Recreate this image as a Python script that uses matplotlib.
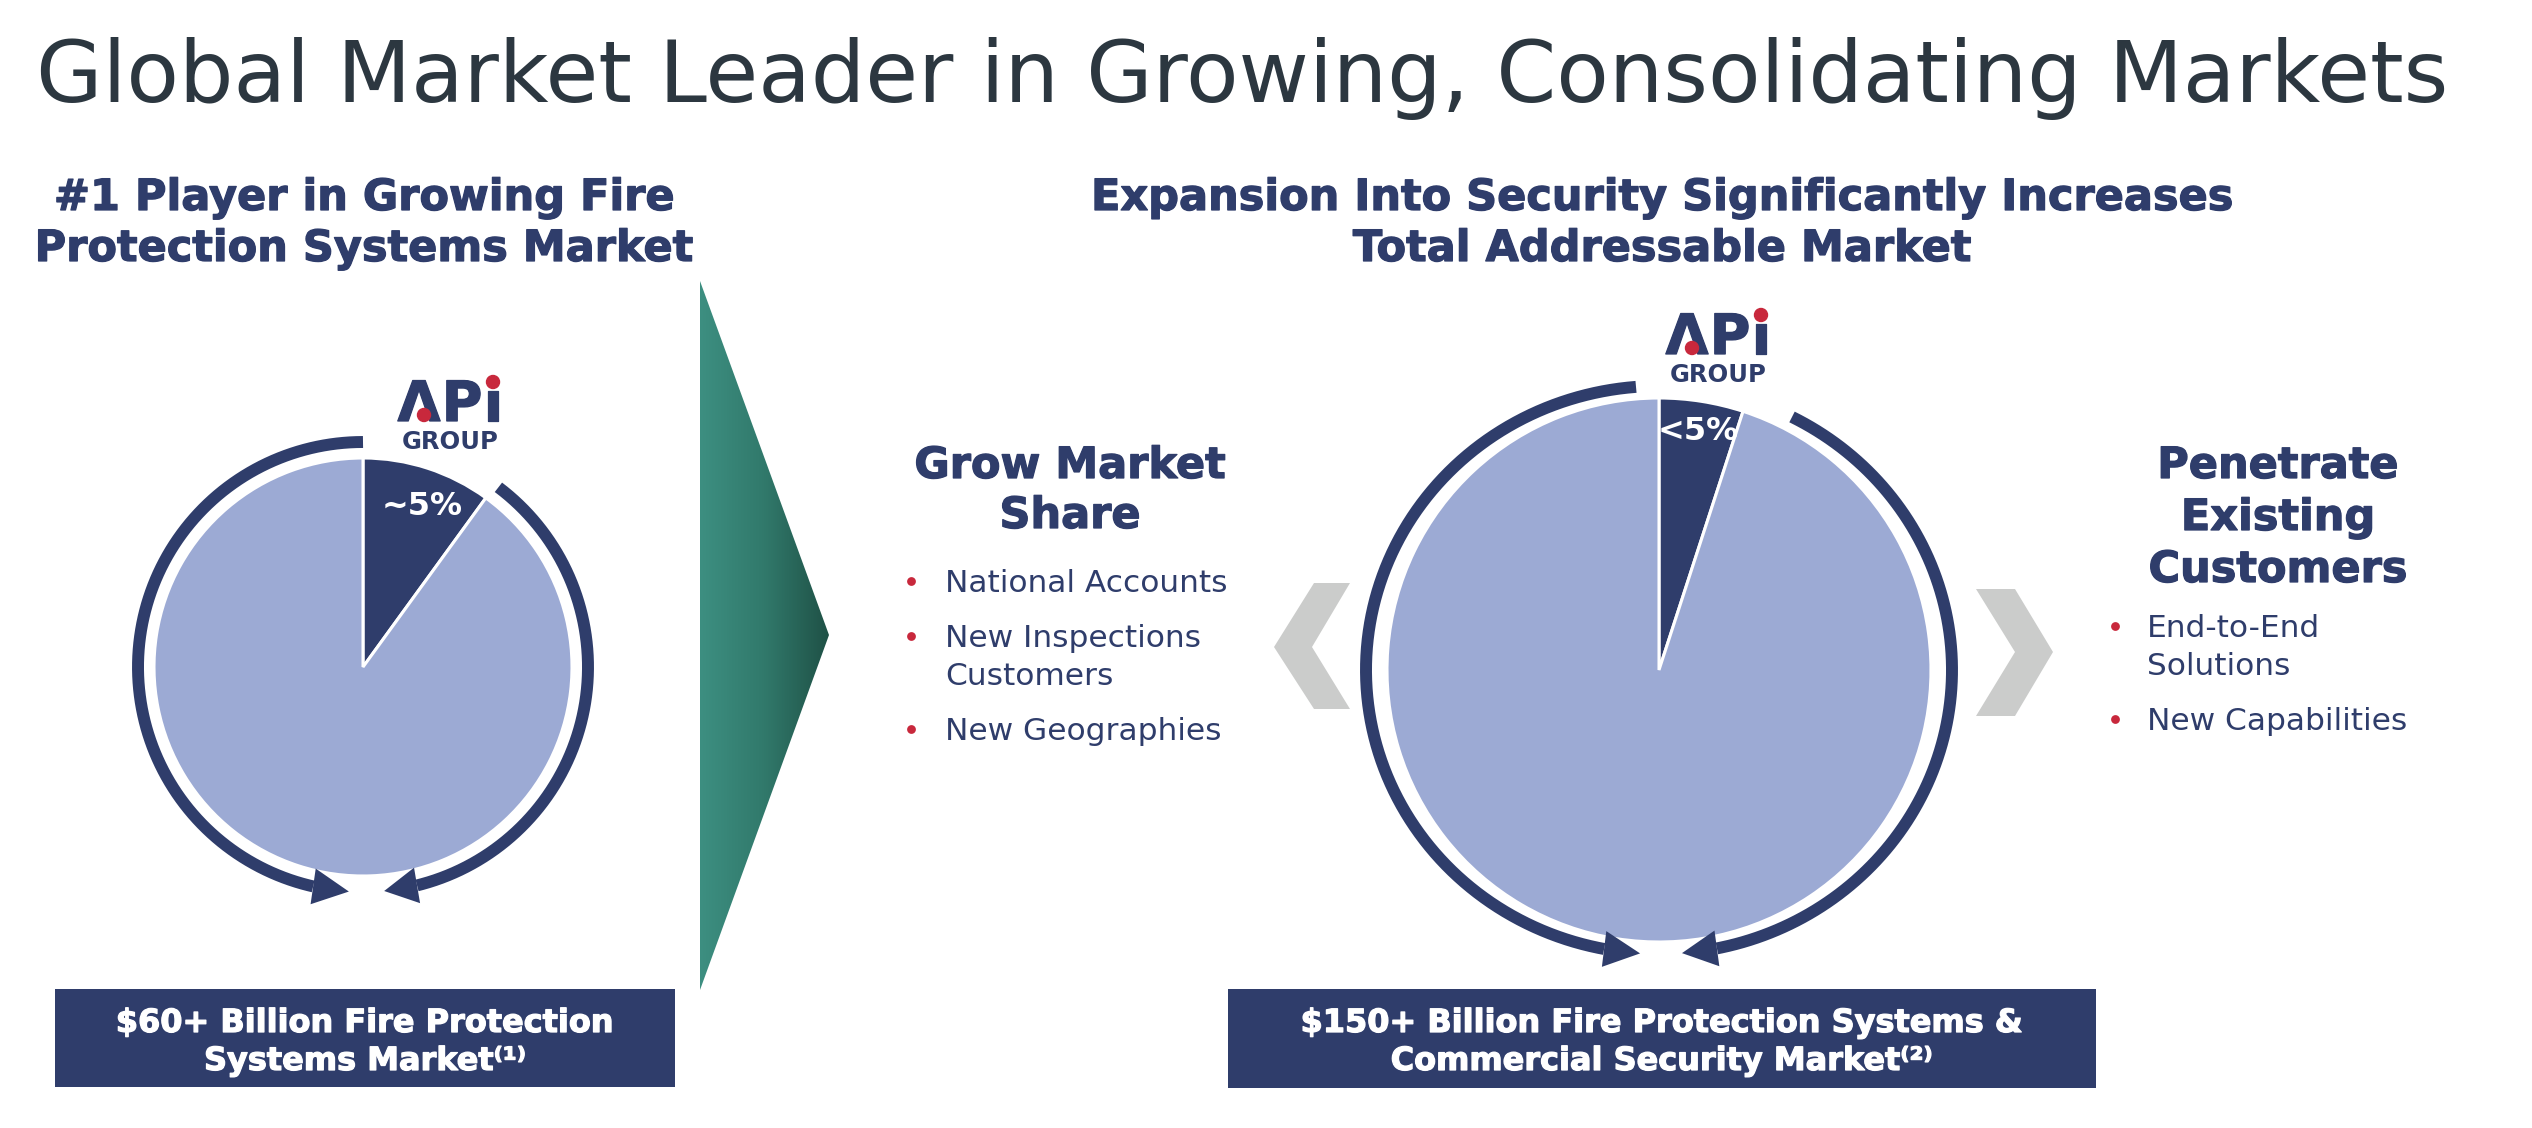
import numpy as np
import matplotlib.pyplot as plt
import matplotlib.patheffects as pe
from matplotlib.patches import Polygon, Rectangle, Circle
from matplotlib.colors import LinearSegmentedColormap

W, H = 2532, 1128

NAVY = '#2f3d6b'
LIGHT = '#9caad4'
RED = '#c8283c'
GREY = '#cbcccb'
INK = '#2c3740'

# --- data / text -----------------------------------------------------------
title = 'Global Market Leader in Growing, Consolidating Markets'
left_heading = ['#1 Player in Growing Fire', 'Protection Systems Market']
right_heading = ['Expansion Into Security Significantly Increases',
                 'Total Addressable Market']

# slice of the pie drawn for APi Group vs. rest of market
left_share = [10, 90]
right_share = [5, 95]
left_label = '~5%'
right_label = '<5%'

grow_title = ['Grow Market', 'Share']
grow_items = [['National Accounts'], ['New Inspections', 'Customers'], ['New Geographies']]
pen_title = ['Penetrate', 'Existing', 'Customers']
pen_items = [['End-to-End', 'Solutions'], ['New Capabilities']]

left_box = ['$60+ Billion Fire Protection', 'Systems Market\u207d\u00b9\u207e']
right_box = ['$150+ Billion Fire Protection Systems &',
             'Commercial Security Market\u207d\u00b2\u207e']

plt.rcParams['font.family'] = 'DejaVu Sans'

fig = plt.figure(figsize=(W / 100, H / 100), dpi=100)
ax = fig.add_axes([0, 0, 1, 1])


def txt(x, y, s, size, weight='normal', color=NAVY, ha='center', heavy=False):
    t = ax.text(x, y, s, fontsize=size, fontweight=weight, color=color,
                ha=ha, va='baseline', parse_math=False, zorder=6)
    if heavy:
        # a thin outline makes DejaVu Bold look closer to the heavier original
        t.set_path_effects([pe.withStroke(linewidth=0.9, foreground=color)])


def lines(x, base, rows, pitch, size, weight='bold', color=NAVY, ha='center'):
    for i, s in enumerate(rows):
        txt(x, base + i * pitch, s, size, weight, color, ha, heavy=(weight == 'bold'))


def ring_xy(cx, cy, rx, ry, a):
    a = np.radians(a)
    return cx + rx * np.sin(a), cy - ry * np.cos(a)


def ring_arrow(cx, cy, rx, ry, a0, a1, tip, half=18):
    t = np.linspace(a0, a1, 300)
    x, y = ring_xy(cx, cy, rx, ry, t)
    ax.plot(x, y, color=NAVY, lw=8.6, solid_capstyle='butt', zorder=3)
    bx, by = ring_xy(cx, cy, rx, ry, a1)
    tx, ty = ring_xy(cx, cy, rx, ry, tip)
    d = np.array([tx - bx, ty - by])
    d /= np.hypot(*d)
    n = np.array([-d[1], d[0]])
    ax.add_patch(Polygon([(tx, ty), (bx + n[0] * half, by + n[1] * half),
                          (bx - n[0] * half, by - n[1] * half)],
                         closed=True, color=NAVY, lw=0, zorder=3))


def logo(x0, base):
    txt(x0 + 17, base, '\u039b', 40, 'bold', heavy=True)
    txt(x0 + 60, base, 'P', 40, 'bold', heavy=True)
    txt(x0 + 91, base, '\u0131', 40, 'bold', heavy=True)
    ax.add_patch(Circle((x0 + 22, base - 6), 6.5, color=RED, zorder=7))
    ax.add_patch(Circle((x0 + 91, base - 39), 6.5, color=RED, zorder=7))
    txt(x0 + 48, base + 28, 'GROUP', 17.5, 'bold')


def bullets(xdot, xtxt, bases, items, size=22.5):
    for b, rows in zip(bases, items):
        ax.scatter([xdot], [b - 11], s=40, color=RED, zorder=6, linewidths=0)
        lines(xtxt, b, rows, 38, size, 'normal', ha='left')


# --- title and headings ----------------------------------------------------
txt(36, 102, title, 61.8, color=INK, ha='left')
lines(364, 210, left_heading, 51, 31)
lines(1662, 210, right_heading, 51, 31)

# --- left pie --------------------------------------------------------------
ax.pie(left_share, colors=[NAVY, LIGHT], startangle=-90, counterclock=True,
       center=(363, 667), radius=209,
       wedgeprops=dict(edgecolor='white', linewidth=2.2))
txt(422, 515, left_label, 23, 'bold', color='white')
ring_arrow(363, 667, 225, 225, 360, 192.8, 183.6)
ring_arrow(363, 667, 225, 225, 37, 166.1, 174.6)
logo(402, 421)

# --- right pie -------------------------------------------------------------
ax.pie(right_share, colors=[NAVY, LIGHT], startangle=-90, counterclock=True,
       center=(1659, 670), radius=272,
       wedgeprops=dict(edgecolor='white', linewidth=2.2))
txt(1698, 440, right_label, 23, 'bold', color='white')
ring_arrow(1659, 670, 293, 284, 355.5, 190.8, 183.7)
ring_arrow(1659, 670, 293, 284, 27, 168.6, 175.5)
logo(1670, 354)

# --- gradient arrow between panels ----------------------------------------
tri = Polygon([(700, 281), (829, 635), (700, 990)], closed=True,
              facecolor='none', edgecolor='none')
ax.add_patch(tri)
teal = LinearSegmentedColormap.from_list('teal', ['#3d8f81', '#31796b', '#1f5146'])
im = ax.imshow(np.linspace(0, 1, 256).reshape(1, -1), cmap=teal,
               extent=[700, 829, 990, 281], aspect='auto', zorder=2)
im.set_clip_path(tri)

# --- grey chevrons ---------------------------------------------------------
ax.add_patch(Polygon([(1350, 583), (1314, 583), (1274, 647), (1314, 709),
                      (1350, 709), (1312, 647)], closed=True, color=GREY, lw=0))
ax.add_patch(Polygon([(1976, 589), (2015, 589), (2053, 652), (2015, 716),
                      (1976, 716), (2015, 652)], closed=True, color=GREY, lw=0))

# --- side texts ------------------------------------------------------------
lines(1070, 478, grow_title, 50, 31)
bullets(911, 945, [592, 647, 740], grow_items)
lines(2278, 478, pen_title, 52, 31)
bullets(2115, 2147, [637, 730], pen_items)

# --- bottom boxes ----------------------------------------------------------
ax.add_patch(Rectangle((55, 989), 620, 98, color=NAVY, lw=0))
ax.add_patch(Rectangle((1228, 989), 868, 99, color=NAVY, lw=0))
lines(365, 1032, left_box, 38, 23, color='white')
lines(1662, 1032, right_box, 38, 23, color='white')

ax.set_xlim(0, W)
ax.set_ylim(H, 0)
ax.set_aspect('auto')
ax.axis('off')

fig.savefig('out.png', dpi=100, facecolor='white')
